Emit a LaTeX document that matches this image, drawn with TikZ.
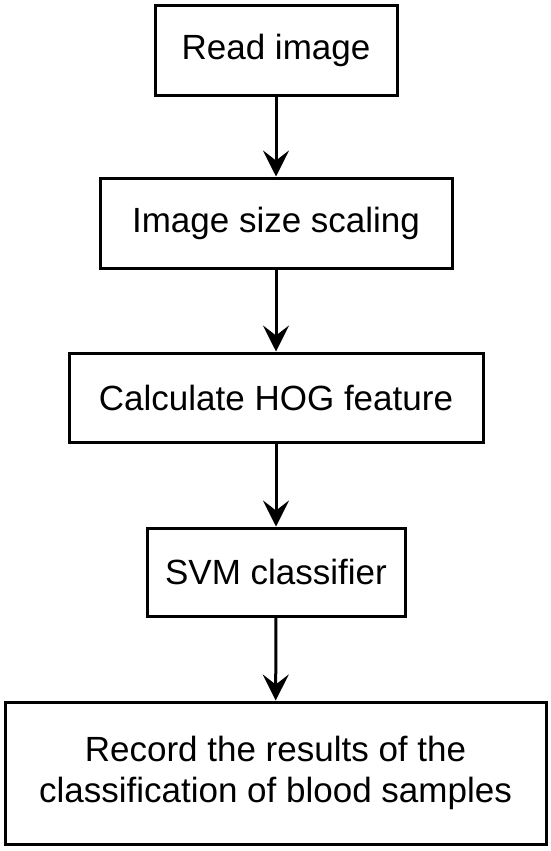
\documentclass[tikz,border=0pt]{standalone}
\usepackage{fontspec}
\setmainfont{Liberation Sans}
\usetikzlibrary{arrows.meta}
\begin{document}
\begin{tikzpicture}[x=1pt,y=-1pt,
  box/.style={draw=black,line width=3pt,fill=white,inner sep=0pt,align=center,font=\fontsize{35}{41}\selectfont},
  flow/.style={line width=3pt,-{Stealth[length=26pt,width=26pt,inset=10pt]}}]
\useasboundingbox (0,0) rectangle (550,851);
\node[box,minimum width=242pt,minimum height=89pt] (a) at (276,50.5) {Read image};
\node[box,minimum width=352pt,minimum height=90pt] (b) at (276,223) {Image size scaling};
\node[box,minimum width=414pt,minimum height=89pt] (c) at (276,397.5) {Calculate HOG feature};
\node[box,minimum width=258pt,minimum height=88pt] (d) at (276,572) {SVM classifier};
\node[box,minimum width=541pt,minimum height=142pt] (e) at (275.5,773) {Record the results of the\\classification of blood samples};
\draw[flow] (a) -- (b);
\draw[flow] (b) -- (c);
\draw[flow] (c) -- (d);
\draw[flow] (d) -- (e);
\end{tikzpicture}
\end{document}
